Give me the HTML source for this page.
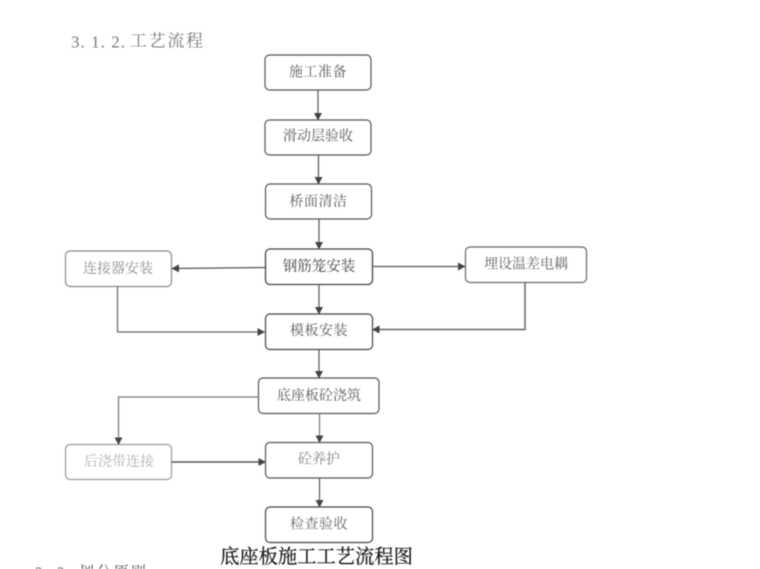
<!DOCTYPE html>
<html><head><meta charset="utf-8">
<style>
html,body{margin:0;padding:0;background:#fff}
svg{display:block;filter:blur(.4px)}
text{font-family:"Liberation Serif","Noto Serif CJK SC",serif;text-anchor:middle;dominant-baseline:central}
</style></head><body>
<svg width="760" height="569" viewBox="0 0 760 569" xmlns="http://www.w3.org/2000/svg">
<defs>
<marker id="a" markerWidth="10" markerHeight="10" refX="7" refY="4" orient="auto" markerUnits="userSpaceOnUse"><path d="M0 0L7.500 4L0 8z" fill="#444"/></marker>
</defs>
<g fill="#fff" stroke="#555" stroke-width="1.2">
<rect x="265" y="55" width="106" height="35" rx="4.5"/>
<rect x="265" y="120" width="106" height="35" rx="4.5"/>
<rect x="265.500" y="184" width="106" height="35" rx="4.500"/>
<rect x="265.500" y="249" width="107" height="35.500" rx="4.500" stroke="#444" stroke-width="1.300"/>
<rect x="65.500" y="251" width="106" height="35.500" rx="4.500" stroke="#888"/>
<rect x="465.500" y="247" width="121" height="35.500" rx="4.500" stroke="#666"/>
<rect x="265.500" y="314" width="107" height="35.500" rx="4.500" stroke="#444"/>
<rect x="258.500" y="378" width="120.500" height="35.500" rx="4.500"/>
<rect x="65.500" y="444.500" width="106" height="35" rx="4.500" stroke="#999"/>
<rect x="265.500" y="442.500" width="107" height="35.500" rx="4.500"/>
<rect x="265.500" y="507" width="107" height="35.500" rx="4.500" stroke="#444"/>
</g>
<g fill="none" stroke="#555" stroke-width="1.200">
<path d="M318 90V120" marker-end="url(#a)"/>
<path d="M318.500 155V184" marker-end="url(#a)"/>
<path d="M319 219V249" marker-end="url(#a)"/>
<path d="M265 267.500L172 268.500" marker-end="url(#a)"/>
<path d="M372.500 266.500H465" marker-end="url(#a)"/>
<path d="M319 284.500V314" marker-end="url(#a)"/>
<path d="M117.500 286.500V332H264.500" marker-end="url(#a)" stroke="#666"/>
<path d="M525 282.500V329.500H372.500" marker-end="url(#a)" stroke="#666" stroke-width="1.500"/>
<path d="M319 349.500V378" marker-end="url(#a)"/>
<path d="M258.500 397H118.500V444.500" marker-end="url(#a)" stroke="#777"/>
<path d="M319.500 413.500V442.500" marker-end="url(#a)" stroke="#777"/>
<path d="M171.500 462H265.500" marker-end="url(#a)" stroke-width="1.400"/>
<path d="M319.500 478V507" marker-end="url(#a)"/>
</g>
<g font-size="14" fill="#5a5a5a">
<text x="318" y="73" letter-spacing="0.500">施工准备</text>
<text x="318" y="137">滑动层验收</text>
<text x="318.500" y="202.500" letter-spacing="0.500">桥面清洁</text>
<text x="319" y="267" fill="#444" font-size="14.500">钢筋笼安装</text>
<text x="118" y="269.500" fill="#8c8c8c">连接器安装</text>
<text x="526" y="265" fill="#666">埋设温差电耦</text>
<text x="319" y="331.500" letter-spacing="0.500">模板安装</text>
<text x="319" y="396.500">底座板砼浇筑</text>
<text x="119" y="462.500" fill="#b0b0b0">后浇带连接</text>
<text x="319" y="460" fill="#808080">砼养护</text>
<text x="319" y="525" fill="#666" letter-spacing="0.500">检查验收</text>
</g>
<text x="98" y="42" font-size="17" fill="#777" textLength="54" lengthAdjust="spacing">3. 1. 2.</text>
<text x="166.500" y="41" font-size="17" fill="#777" textLength="73" lengthAdjust="spacing">工艺流程</text>
<text x="316.500" y="557.500" font-size="19.300" fill="#111" stroke="#111" stroke-width="0.200">底座板施工工艺流程图</text>
<text x="90.500" y="573" font-size="15" fill="#444" textLength="111" lengthAdjust="spacing">2. 2. 划分原则</text>
</svg>
</body></html>
